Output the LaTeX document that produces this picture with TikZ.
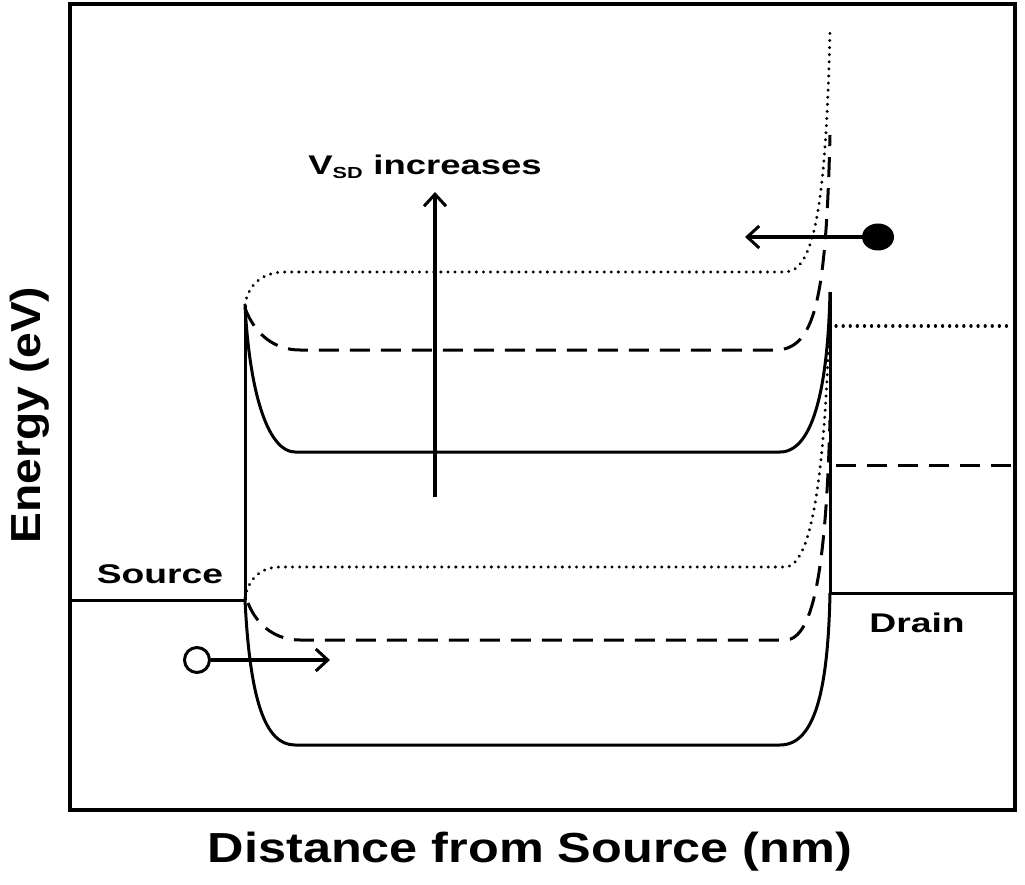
\documentclass[tikz,border=0pt]{standalone}
\usepackage{fontspec}
\usepackage{graphicx}
\setmainfont{Liberation Sans}
\usetikzlibrary{arrows.meta,shapes.geometric}
\begin{document}
\begin{tikzpicture}[x=1pt,y=-1pt,
  band/.style={line width=3pt},
  bdash/.style={line width=3pt,dash pattern=on 20pt off 11pt},
  bdot/.style={line width=3.2pt,dash pattern=on 0.1pt off 7pt,line cap=round},
  arr/.style={line width=3.2pt,-{Straight Barb[length=12pt,width=22pt,line width=3pt]}},
  lab/.style={font=\bfseries\fontsize{27}{32}\selectfont}]
\useasboundingbox (0,0) rectangle (1025,885);
\draw[line width=4pt] (70,4) rectangle (1015,810);
% source / drain
\coordinate (sL) at (70,600); \coordinate (sR) at (245,600);
\coordinate (dL) at (830,593); \coordinate (dR) at (1015,593);
\draw[band] (sL) -- (sR);
\draw[band] (dL) -- (dR);
\draw[band] (245,305) -- (sR);
\draw[band] (830,292) -- (dL);
\draw[bdot] (836,326) -- (1013,326);
\draw[bdash] (836,465) -- (1013,465);
% upper bands
\draw[band] (245,305) .. controls (250,400) and (270,452) .. (295,452) -- (780,452) .. controls (815,452) and (828,380) .. (830,292);
\draw[bdash] (245,308) .. controls (255,335) and (275,350) .. (300,350) -- (775,350) .. controls (815,350) and (826,300) .. (830,135);
\draw[bdot] (245,305) .. controls (248,285) and (262,272) .. (285,272) -- (785,272) .. controls (815,272) and (826,200) .. (830,30);
% lower bands
\draw[band] (245,600) .. controls (250,700) and (265,745) .. (295,745) -- (780,745) .. controls (815,745) and (828,690) .. (830,593);
\draw[bdash] (248,603) .. controls (258,628) and (278,640) .. (300,640) -- (785,640) .. controls (815,640) and (826,560) .. (830,420);
\draw[bdot] (245,598) .. controls (248,580) and (260,567) .. (280,567) -- (785,567) .. controls (815,567) and (826,450) .. (830,300);
% carriers
\node[circle,draw,line width=3pt,minimum size=25pt,inner sep=0pt] (h) at (197,660) {};
\coordinate (hE) at (330,660);
\draw[arr] (h) -- (hE);
\node[ellipse,fill,minimum width=32pt,minimum height=27pt,inner sep=0pt] (e) at (878,237) {};
\coordinate (eE) at (745,237);
\draw[arr] (e) -- (eE);
\coordinate (aB) at (435,497); \coordinate (aT) at (435,192);
\draw[arr] (aB) -- (aT);
% labels
\node[lab] (vsd) at (425,167) {\scalebox{1.35}[1]{V\textsubscript{\fontsize{16}{18}\selectfont SD} increases}};
\node[lab] (src) at (160,574) {\scalebox{1.38}[1]{Source}};
\node[lab] (drn) at (917,623) {\scalebox{1.38}[1]{Drain}};
\node[lab,font=\bfseries\fontsize{42}{48}\selectfont] (xl) at (530,852) {\scalebox{1.2}[1]{Distance from Source (nm)}};
\node[lab,font=\bfseries\fontsize{42}{48}\selectfont,rotate=90] (yl) at (30,415) {\scalebox{1.1}[1]{Energy (eV)}};
\end{tikzpicture}
\end{document}
